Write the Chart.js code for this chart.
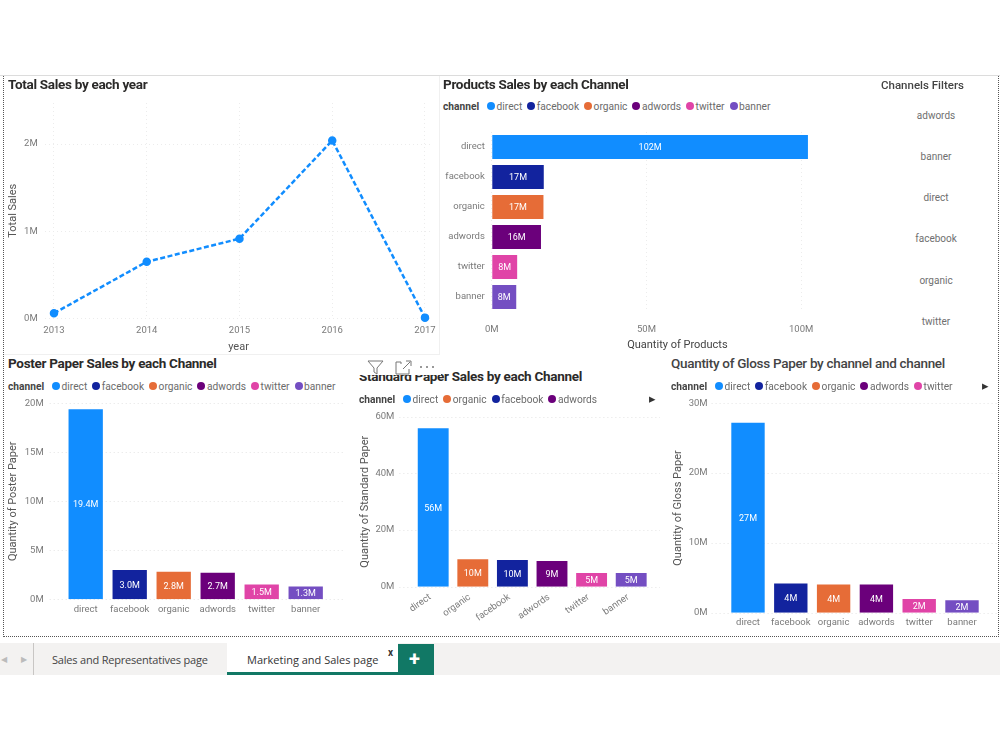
<!DOCTYPE html>
<html lang="en">
<head>
<meta charset="UTF-8">
<title>Marketing and Sales page</title>
<script src="https://cdn.jsdelivr.net/npm/chart.js"></script>
<style>
* { margin: 0; padding: 0; box-sizing: border-box; }
html, body { width: 1000px; height: 750px; background: #fff; overflow: hidden; font-family: Roboto, 'Noto Sans', sans-serif; }
canvas { position: absolute; }
.txt { position: absolute; white-space: nowrap; transform: translateY(-50%); }
.title { font-size: 13.5px; font-weight: 700; color: #2b2a29; letter-spacing: -0.3px; }
.slicer { font-size: 10px; color: #6f6f6f; transform: translate(-50%, -50%); }
.legend { position: absolute; display: flex; align-items: center; height: 14px; font-size: 10.2px; color: #6b6b6b; white-space: nowrap; }
.legend b { color: #444; margin-right: 8px; }
.legend i { width: 8px; height: 8px; border-radius: 50%; margin-right: 1.5px; }
.legend span { margin-right: 5px; }
.box { position: absolute; }
.tabtxt { font-family: 'Open Sans', sans-serif; font-size: 11px; color: #444; }
</style>
</head>
<body>
<div class="box" style="left:0;top:75px;width:1000px;height:1px;background:#dcdcdc"></div>
<div class="box" style="left:3px;top:76px;width:996px;height:561px;border:1px dotted #555;border-top:none"></div>
<div class="box" style="left:4px;top:76px;width:436px;height:279px;border-right:1px solid #f0f0f0;border-bottom:1px solid #f0f0f0"></div>

<div class="box" style="left:0;top:643px;width:1000px;height:32px;background:#f3f2f1"></div>
<div class="box" style="left:33px;top:643px;width:1px;height:32px;background:#c8c6c4"></div>
<div class="box" style="left:227px;top:643px;width:171px;height:32px;background:#fff;border-bottom:3px solid #117865"></div>
<div class="box" style="left:398px;top:644px;width:36px;height:31px;background:#117865"></div>
<div class="txt" style="left:409px;top:659px;color:#fff;font-size:20px;font-weight:700">+</div>
<div class="txt" style="left:388px;top:652px;color:#333;font-size:10px;font-weight:700">x</div>
<div class="txt" style="left:1px;top:659px;color:#bbb;font-size:8px">&#9664;</div>
<div class="txt" style="left:21px;top:659px;color:#bbb;font-size:8px">&#9654;</div>
<div class="txt tabtxt" style="left:52px;top:659px;letter-spacing:-0.2px" id="tab1"></div>
<div class="txt tabtxt" style="left:247px;top:659px;color:#333" id="tab2"></div>

<script>
// data, values in millions
const years = [2013, 2014, 2015, 2016, 2017];
const totalSales = [0.06, 0.65, 0.915, 2.04, 0.01];
const totalTicks = [0, 1, 2];

const productChannels = ['direct', 'facebook', 'organic', 'adwords', 'twitter', 'banner'];
const productValues = [102.2, 16.8, 16.7, 15.9, 8.2, 7.9];
const productLabels = ['102M', '17M', '17M', '16M', '8M', '8M'];
const productTicks = [0, 50, 100];

const posterChannels = ['direct', 'facebook', 'organic', 'adwords', 'twitter', 'banner'];
const posterValues = [19.4, 3.0, 2.8, 2.7, 1.5, 1.3];
const posterLabels = ['19.4M', '3.0M', '2.8M', '2.7M', '1.5M', '1.3M'];
const posterTicks = [0, 5, 10, 15, 20];

const standardChannels = ['direct', 'organic', 'facebook', 'adwords', 'twitter', 'banner'];
const standardValues = [55.9, 9.7, 9.4, 9.1, 4.8, 4.8];
const standardLabels = ['56M', '10M', '10M', '9M', '5M', '5M'];
const standardTicks = [0, 20, 40, 60];

const glossChannels = ['direct', 'facebook', 'organic', 'adwords', 'twitter', 'banner'];
const glossValues = [27.2, 4.2, 4.05, 4.05, 1.95, 1.8];
const glossLabels = ['27M', '4M', '4M', '4M', '2M', '2M'];
const glossTicks = [0, 10, 20, 30];

const slicerItems = ['adwords', 'banner', 'direct', 'facebook', 'organic', 'twitter'];

const channelColors = {
  direct: '#118DFF', facebook: '#12239E', organic: '#E66C37',
  adwords: '#6B007B', twitter: '#E044A7', banner: '#744EC2'
};

const tickFont = { family: 'Roboto', size: 9.5 };
const tickColor = '#7a7a7a';
const titleColor = '#555';
const gridDash = [1, 3];
const gridColor = '#e4e4e4';

function addText(cls, text, x, y, extra) {
  const d = document.createElement('div');
  d.className = cls;
  d.textContent = text;
  d.style.left = x + 'px';
  d.style.top = y + 'px';
  if (extra) d.style.cssText += extra;
  document.body.appendChild(d);
}

function addLegend(x, y, names) {
  const el = document.createElement('div');
  el.className = 'legend';
  el.style.left = x + 'px';
  el.style.top = (y - 7) + 'px';
  el.innerHTML = '<b>channel</b>' + names.map(n =>
    '<i style="background:' + channelColors[n] + '"></i><span>' + n + '</span>').join('');
  document.body.appendChild(el);
}

function addCanvas(c) {
  const cv = document.createElement('canvas');
  cv.style.left = c.l + 'px';
  cv.style.top = c.t + 'px';
  cv.style.width = (c.r - c.l) + 'px';
  cv.style.height = (c.b - c.t) + 'px';
  cv.width = c.r - c.l;
  cv.height = c.b - c.t;
  document.body.appendChild(cv);
  return cv;
}

// chart.js adds tick padding to the layout, the plot box here is fixed
function noPad(s) {
  s.paddingTop = 0; s.paddingBottom = 0; s.paddingLeft = 0; s.paddingRight = 0;
}

// white labels in the middle of the bars
const barLabels = {
  id: 'barLabels',
  afterDatasetsDraw(chart, args, opts) {
    const ctx = chart.ctx;
    ctx.save();
    ctx.fillStyle = '#fff';
    ctx.font = '9px Roboto';
    ctx.textAlign = 'center';
    ctx.textBaseline = 'middle';
    chart.getDatasetMeta(0).data.forEach((bar, i) => {
      const p = bar.getCenterPoint();
      ctx.fillText(opts.text[i], p.x, p.y + 1);
    });
    ctx.restore();
  }
};

// dotted value lines run a bit wider than the bars
const wideGrid = {
  id: 'wideGrid',
  beforeDatasetsDraw(chart, args, opts) {
    const s = chart.scales.y, a = chart.chartArea, ctx = chart.ctx;
    ctx.save();
    ctx.strokeStyle = gridColor;
    ctx.setLineDash(gridDash);
    s.ticks.forEach(t => {
      const y = Math.round(s.getPixelForValue(t.value)) + 0.5;
      ctx.beginPath();
      ctx.moveTo(a.left - opts.left, y);
      ctx.lineTo(a.right + opts.right, y);
      ctx.stroke();
    });
    ctx.restore();
  }
};

function columnChart(c, p, names, values, labels, ticks, yTitle, rotation) {
  new Chart(addCanvas(c), {
    type: 'bar',
    data: { labels: names, datasets: [{ data: values, backgroundColor: names.map(n => channelColors[n]), barPercentage: 0.78, categoryPercentage: 1 }] },
    options: {
      responsive: false, animation: false,
      layout: { padding: { top: p.t - c.t, right: c.r - p.r, left: 0, bottom: 0 } },
      plugins: { legend: { display: false }, tooltip: { enabled: false }, barLabels: { text: labels }, wideGrid: { left: p.gl, right: p.gr } },
      scales: {
        x: {
          grid: { display: false, drawTicks: false }, border: { display: false },
          ticks: { color: tickColor, font: tickFont, padding: p.xp, labelOffset: rotation ? -3 : 0, autoSkip: false, minRotation: rotation, maxRotation: rotation },
          afterFit: s => { s.height = c.b - p.b; noPad(s); }
        },
        y: {
          min: 0, max: ticks[ticks.length - 1],
          grid: { display: false, drawTicks: false }, border: { display: false },
          afterBuildTicks: s => { s.ticks = ticks.map(v => ({ value: v })); },
          ticks: { color: tickColor, font: tickFont, padding: p.tp, callback: v => v + 'M' },
          title: { display: true, text: yTitle, color: titleColor, font: { family: 'Roboto', size: 11 }, padding: 0 },
          afterFit: s => { s.width = p.l - c.l; noPad(s); }
        }
      }
    },
    plugins: [wideGrid, barLabels]
  });
}

// Total sales line
new Chart(addCanvas({ l: 5, t: 90, r: 439, b: 354 }), {
  type: 'line',
  data: { datasets: [{ data: years.map((y, i) => ({ x: y, y: totalSales[i] })), borderColor: '#118DFF', backgroundColor: '#118DFF', borderWidth: 2.5, borderDash: [5, 2.5], pointRadius: 3, tension: 0, clip: false }] },
  options: {
    responsive: false, animation: false,
    layout: { padding: { top: 13, right: 6.6 } },
    plugins: { legend: { display: false }, tooltip: { enabled: false } },
    scales: {
      x: {
        type: 'linear', min: 2012.9, max: 2017.08,
        afterBuildTicks: s => { s.ticks = years.map(v => ({ value: v })); },
        grid: { color: '#ececec', drawTicks: false }, border: { display: false, dash: gridDash },
        ticks: { color: tickColor, font: tickFont, padding: 6, callback: v => String(v), maxRotation: 0 },
        title: { display: true, text: 'year', color: titleColor, font: { family: 'Roboto', size: 11 }, padding: 0 },
        afterFit: s => { s.height = 354 - 318.5; noPad(s); }
      },
      y: {
        min: 0, max: 2.47,
        afterBuildTicks: s => { s.ticks = totalTicks.map(v => ({ value: v })); },
        grid: { color: '#ececec', drawTicks: false }, border: { display: false, dash: gridDash },
        ticks: { color: tickColor, font: tickFont, padding: 7, callback: v => v + 'M' },
        title: { display: true, text: 'Total Sales', color: titleColor, font: { family: 'Roboto', size: 11 }, padding: 2 },
        afterFit: s => { s.width = 44.7 - 5; noPad(s); }
      }
    }
  }
});

// Products horizontal bars
new Chart(addCanvas({ l: 443, t: 125, r: 870, b: 352 }), {
  type: 'bar',
  data: { labels: productChannels, datasets: [{ data: productValues, backgroundColor: productChannels.map(n => channelColors[n]), barPercentage: 0.8, categoryPercentage: 1 }] },
  options: {
    indexAxis: 'y', responsive: false, animation: false,
    layout: { padding: { top: 7, right: 7 } },
    plugins: { legend: { display: false }, tooltip: { enabled: false }, barLabels: { text: productLabels } },
    scales: {
      x: {
        min: 0, max: 120,
        afterBuildTicks: s => { s.ticks = productTicks.map(v => ({ value: v })); },
        grid: { color: '#ececec', drawTicks: false }, border: { display: false, dash: gridDash },
        ticks: { color: tickColor, font: tickFont, padding: 12, callback: v => v + 'M', maxRotation: 0 },
        title: { display: true, text: 'Quantity of Products', color: '#444', font: { family: 'Roboto', size: 11 }, padding: 0 },
        afterFit: s => { s.height = 352 - 312; noPad(s); }
      },
      y: {
        grid: { display: false, drawTicks: false }, border: { display: false },
        ticks: { color: tickColor, font: tickFont, padding: 7, autoSkip: false },
        afterFit: s => { s.width = 491.8 - 443; noPad(s); }
      }
    }
  },
  plugins: [barLabels]
});

// Column charts
columnChart({ l: 7, t: 395, r: 345, b: 628 }, { l: 63.7, r: 327.7, t: 403.3, b: 599.3, gl: 14, gr: 15, tp: 20, xp: 5 },
  posterChannels, posterValues, posterLabels, posterTicks, 'Quantity of Poster Paper', 0);
columnChart({ l: 359, t: 408, r: 662, b: 628 }, { l: 413.4, r: 651, t: 416.7, b: 586.7, gl: 14, gr: 9, tp: 19, xp: 5 },
  standardChannels, standardValues, standardLabels, standardTicks, 'Quantity of Standard Paper', 35);
columnChart({ l: 672, t: 395, r: 998, b: 634 }, { l: 726.6, r: 983.4, t: 403.3, b: 612.7, gl: 15, gr: 14, tp: 19, xp: 4 },
  glossChannels, glossValues, glossLabels, glossTicks, 'Quantity of Gloss Paper', 0);

// Titles, legends and slicer text
addText('txt title', 'Total Sales by each year', 8, 83.5);
addText('txt title', 'Products Sales by each Channel', 443, 83.5);
addText('txt title', 'Poster Paper Sales by each Channel', 8, 363);
addText('txt title', 'Standard Paper Sales by each Channel', 359, 376);
addText('txt title', 'Quantity of Gloss Paper by channel and channel', 671, 363, 'font-weight:500;color:#444');
addText('txt title', 'Channels Filters', 881, 85, 'font-size:11.5px;font-weight:500;color:#444;letter-spacing:0');

addLegend(443, 106, ['direct', 'facebook', 'organic', 'adwords', 'twitter', 'banner']);
addLegend(8, 386, ['direct', 'facebook', 'organic', 'adwords', 'twitter', 'banner']);
addLegend(359, 399, ['direct', 'organic', 'facebook', 'adwords']);
addLegend(671, 386, ['direct', 'facebook', 'organic', 'adwords', 'twitter']);
addText('txt', '\u25B8', 649, 398, 'font-size:13px;color:#333');
addText('txt', '\u25B8', 982, 385, 'font-size:13px;color:#333');

slicerItems.forEach((s, i) => addText('txt slicer', s, 936, [115, 156, 197, 238, 280, 321][i]));

document.getElementById('tab1').textContent = 'Sales and Representatives page';
document.getElementById('tab2').textContent = 'Marketing and Sales page';

// visual header sitting on top of the Standard Paper title
const head = document.createElement('div');
head.className = 'box';
head.style.cssText = 'left:356px;top:356px;width:85px;height:19px;background:#fff';
head.innerHTML = '<svg width="85" height="19" fill="none" stroke="#777" stroke-width="1">' +
  '<path d="M12 5h15l-6 7v6l-3-2v-4z"/>' +
  '<path d="M45 8v-2h-5v12h13v-5M47 13l7-7M50 5h5v5"/>' +
  '<g fill="#777" stroke="none"><circle cx="65" cy="11" r="1"/><circle cx="71" cy="11" r="1"/><circle cx="77" cy="11" r="1"/></g></svg>';
document.body.appendChild(head);
</script>
</body>
</html>
